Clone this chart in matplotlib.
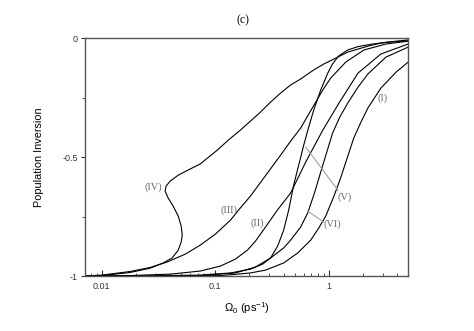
import matplotlib
matplotlib.use("Agg")
import matplotlib.pyplot as plt
from matplotlib.ticker import FixedLocator, FixedFormatter, LogLocator, NullFormatter

plt.rcParams['font.family'] = ['Liberation Sans', 'DejaVu Sans']
plt.rcParams['axes.unicode_minus'] = False
plt.rcParams['mathtext.fontset'] = 'custom'
plt.rcParams['mathtext.rm'] = 'Liberation Sans'
plt.rcParams['mathtext.it'] = 'Liberation Sans:italic'

# Rabi frequency (ps^-1) and population inversion for each case
x_I = [0.00708, 0.049, 0.111, 0.204, 0.277, 0.400, 0.532, 0.693, 0.816, 0.940,
       1.11, 1.28, 1.47, 1.66, 1.92, 2.21, 2.88, 3.92, 5.0]
y_I = [-1.0, -1.0, -0.998, -0.987, -0.975, -0.945, -0.903, -0.849, -0.798, -0.748,
       -0.664, -0.584, -0.496, -0.420, -0.353, -0.294, -0.210, -0.143, -0.101]

x_II = [0.00708, 0.0177, 0.040, 0.0736, 0.111, 0.150, 0.192, 0.226, 0.277, 0.347,
        0.461, 0.626, 0.885, 1.23, 1.81, 2.88, 5.0]
y_II = [-1.0, -0.998, -0.992, -0.979, -0.958, -0.929, -0.891, -0.853, -0.794, -0.727,
        -0.651, -0.521, -0.387, -0.273, -0.147, -0.067, -0.025]

x_III = [0.00708, 0.010, 0.0177, 0.0266, 0.0376, 0.0543, 0.0736, 0.100, 0.136, 0.166,
         0.204, 0.288, 0.376, 0.461, 0.565, 0.767, 0.885, 1.04, 1.41, 2.04, 3.19, 5.0]
y_III = [-1.0, -0.996, -0.981, -0.964, -0.941, -0.908, -0.870, -0.824, -0.765, -0.714,
         -0.664, -0.567, -0.492, -0.433, -0.378, -0.269, -0.218, -0.168, -0.101, -0.050,
         -0.025, -0.013]

x_IV = [0.00708, 0.010, 0.0177, 0.0266, 0.0347, 0.0416, 0.0471, 0.0500, 0.0511, 0.0500,
        0.0471, 0.0425, 0.0384, 0.0361, 0.0368, 0.0400, 0.0471, 0.0601, 0.0736, 0.104,
        0.130, 0.166, 0.204, 0.250, 0.307, 0.376, 0.461, 0.565, 0.736, 0.903, 1.11,
        1.47, 2.21, 2.88, 3.92, 5.0]
y_IV = [-1.0, -0.998, -0.985, -0.967, -0.945, -0.924, -0.891, -0.857, -0.828, -0.790,
        -0.748, -0.706, -0.672, -0.643, -0.622, -0.601, -0.576, -0.550, -0.529, -0.471,
        -0.429, -0.387, -0.349, -0.311, -0.269, -0.231, -0.197, -0.172, -0.134, -0.109,
        -0.088, -0.059, -0.034, -0.021, -0.013, -0.008]

x_V = [0.00708, 0.0266, 0.0736, 0.136, 0.204, 0.261, 0.307, 0.354, 0.400, 0.443,
       0.490, 0.543, 0.601, 0.665, 0.736, 0.849, 0.980, 1.08, 1.23, 1.47, 1.81, 2.35,
       3.19, 5.0]
y_V = [-1.0, -0.999, -0.996, -0.987, -0.971, -0.950, -0.924, -0.874, -0.807, -0.723,
       -0.618, -0.534, -0.450, -0.374, -0.303, -0.218, -0.147, -0.108, -0.074, -0.050,
       -0.036, -0.026, -0.018, -0.012]

x_VI = [0.00708, 0.0266, 0.0736, 0.150, 0.226, 0.307, 0.400, 0.461, 0.565, 0.652,
        0.752, 0.849, 0.960, 1.08, 1.25, 1.47, 1.81, 2.21, 3.19, 5.0]
y_VI = [-1.0, -1.0, -0.998, -0.987, -0.962, -0.924, -0.882, -0.849, -0.794, -0.735,
        -0.647, -0.563, -0.479, -0.399, -0.332, -0.273, -0.206, -0.151, -0.080, -0.038]

curves = [(x_I, y_I), (x_II, y_II), (x_III, y_III),
          (x_IV, y_IV), (x_V, y_V), (x_VI, y_VI)]

# curve labels and their text positions
label_text = ["(I)", "(II)", "(III)", "(IV)", "(V)", "(VI)"]
label_x = [3.0, 0.233, 0.132, 0.0285, 1.39, 1.08]
label_y = [-0.252, -0.777, -0.723, -0.626, -0.668, -0.782]

# leader lines from labels (V) and (VI) to their curves
leader_x = [(0.626, 1.20), (0.652, 0.903)]
leader_y = [(-0.458, -0.639), (-0.727, -0.773)]

xticks = [0.01, 0.1, 1]
xtick_labels = ["0.01", "0.1", "1"]
yticks = [-1, -0.5, 0]
ytick_labels = ["-1", "-0.5", "0"]

fig = plt.figure(figsize=(4.74, 3.31), dpi=100)
ax = fig.add_axes([0.179, 0.166, 0.682, 0.719])

for xs, ys in curves:
    ax.plot(xs, ys, color='black', lw=0.8, solid_joinstyle='round')

for t, lx, ly in zip(label_text, label_x, label_y):
    ax.text(lx, ly, t, family=['Liberation Serif', 'DejaVu Serif'],
            fontsize=7.5, color='#6a6a6a', ha='center', va='center')

for lxs, lys in zip(leader_x, leader_y):
    ax.plot(lxs, lys, color='#a0a0a0', lw=0.8)

ax.set_xscale('log')
ax.set_xlim(0.00708, 5.0)
ax.set_ylim(-1.0, 0.0)

ax.xaxis.set_major_locator(FixedLocator(xticks))
ax.xaxis.set_major_formatter(FixedFormatter(xtick_labels))
ax.xaxis.set_minor_locator(LogLocator(base=10, subs=range(2, 10)))
ax.xaxis.set_minor_formatter(NullFormatter())
ax.yaxis.set_major_locator(FixedLocator(yticks))
ax.yaxis.set_major_formatter(FixedFormatter(ytick_labels))
ax.yaxis.set_minor_locator(FixedLocator([-0.75, -0.25]))

ax.tick_params(axis='x', which='major', direction='in', length=4, width=0.8,
               labelsize=6.5, pad=4, colors='#333333')
ax.tick_params(axis='x', which='minor', direction='in', length=2.5, width=0.6,
               colors='#333333')
ax.tick_params(axis='y', which='major', direction='out', length=3, width=0.8,
               labelsize=6.5, pad=2, colors='#333333')
ax.tick_params(axis='y', which='minor', direction='out', length=2, width=0.6,
               colors='#333333')

for sp in ax.spines.values():
    sp.set_color('#555555')
    sp.set_linewidth(1.0)

ax.set_xlabel(r'$\mathrm{\Omega}_0$ (ps$^{-1}$)', fontsize=8, labelpad=7)
ax.set_ylabel('Population Inversion', fontsize=7.8, labelpad=13)

fig.text(243 / 474, 1 - 20 / 331, '(c)', family=['Liberation Serif', 'DejaVu Serif'],
         fontsize=8.5, ha='center', va='center')

fig.savefig('out.png', dpi=100, facecolor='white')
